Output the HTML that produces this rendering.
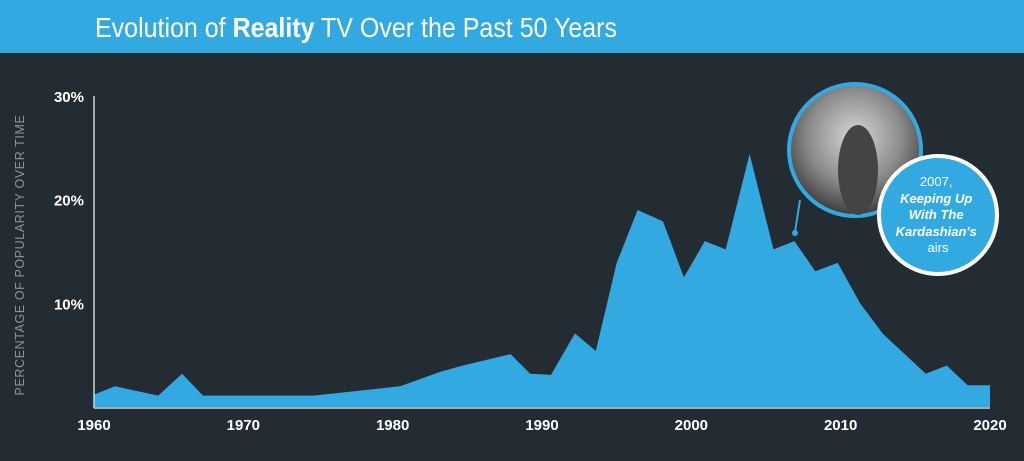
<!DOCTYPE html>
<html><head><meta charset="utf-8"><style>
html,body{margin:0;padding:0;background:#232c33;}
svg{display:block;}
</style></head><body>
<svg width="1024" height="461" viewBox="0 0 1024 461" xmlns="http://www.w3.org/2000/svg" font-family="Liberation Sans, sans-serif">
<rect x="0" y="0" width="1024" height="461" fill="#232c33"/>
<rect x="0" y="0" width="1024" height="53" fill="#33a9e1"/>
<text x="95" y="37" font-size="28" fill="#fff" textLength="522" lengthAdjust="spacingAndGlyphs">Evolution of <tspan font-weight="bold">Reality</tspan> TV Over the Past 50 Years</text>
<text transform="translate(24,255) rotate(-90)" text-anchor="middle" font-size="12.5" fill="#8a949b" letter-spacing="0.6">PERCENTAGE OF POPULARITY OVER TIME</text>
<g id="plot"></g>
<g>
<line x1="800" y1="200" x2="795" y2="232" stroke="#33a9e1" stroke-width="2"/>
<circle cx="795" cy="233" r="3" fill="#33a9e1"/>
<defs><radialGradient id="ph" cx="50%" cy="40%" r="60%"><stop offset="0" stop-color="#d8d8d8"/><stop offset="0.6" stop-color="#8a8a8a"/><stop offset="1" stop-color="#3a3a3a"/></radialGradient></defs>
<circle cx="855" cy="150" r="66" fill="url(#ph)" stroke="#33a9e1" stroke-width="4"/>
<ellipse cx="858" cy="170" rx="20" ry="45" fill="#444"/>
<circle cx="938" cy="215" r="59" fill="#33a9e1" stroke="#fff" stroke-width="4"/>
<text text-anchor="middle" font-size="13" fill="#fff">
<tspan x="938" y="186">2007,</tspan>
<tspan x="938" y="203" font-weight="bold" font-style="italic">Keeping Up</tspan>
<tspan x="938" y="219" font-weight="bold" font-style="italic">With The</tspan>
<tspan x="938" y="236" font-weight="bold" font-style="italic">Kardashian's</tspan>
<tspan x="938" y="252">airs</tspan>
</text>
</g>
</svg>
<script>
const years = [1960,1961.4,1964.3,1965.9,1967.3,1974.7,1980.5,1983.2,1984.7,1987.9,1989.2,1990.6,1992.2,1993.6,1995.0,1996.4,1998.1,1999.5,2000.9,2002.3,2003.9,2005.5,2006.9,2008.3,2009.8,2011.3,2012.8,2015.7,2017.1,2018.5,2020];
const values = [1.2,2.0,1.1,3.2,1.1,1.1,2.0,3.4,4.0,5.1,3.2,3.1,7.1,5.4,13.9,19.0,17.9,12.5,16.0,15.2,24.4,15.2,16.0,13.1,13.9,10.0,7.1,3.2,4.0,2.1,2.1];
const xTicks = [1960,1970,1980,1990,2000,2010,2020];
const yTicks = [10,20,30];
const yTickLabels = ['10%','20%','30%'];
const NS='http://www.w3.org/2000/svg';
const X0=94,X1=990,Y0=407,PXPER=10.37;
const xs=v=>X0+(v-1960)/(2020-1960)*(X1-X0);
const ys=v=>Y0-v*PXPER;
const g=document.getElementById('plot');
function mk(t,a){const e=document.createElementNS(NS,t);for(const k in a)e.setAttribute(k,a[k]);g.appendChild(e);return e;}
let d='M'+xs(years[0])+','+Y0;
years.forEach((y,i)=>{d+=' L'+xs(y).toFixed(1)+','+ys(values[i]).toFixed(1);});
d+=' L'+xs(years[years.length-1])+','+Y0+' Z';
const area=mk('path',{d:d,fill:'#33a9e1'});


const ya=mk('line',{x1:X0,y1:96,x2:X0,y2:Y0+1,stroke:'#cfd4d8','stroke-width':1.5});


const xa=mk('line',{x1:X0,y1:Y0+1,x2:X1,y2:Y0+1,stroke:'#cfd4d8','stroke-width':1.5});


xTicks.forEach(t=>{const e=mk('text',{x:xs(t),y:430,'text-anchor':'middle','font-size':15,'font-weight':'bold',fill:'#fff'});e.textContent=t;

});
yTicks.forEach((t,i)=>{const e=mk('text',{x:X0-10,y:ys(t)+6,'text-anchor':'end','font-size':15,'font-weight':'bold',fill:'#fff'});e.textContent=yTickLabels[i];

});
</script>
</body></html>
